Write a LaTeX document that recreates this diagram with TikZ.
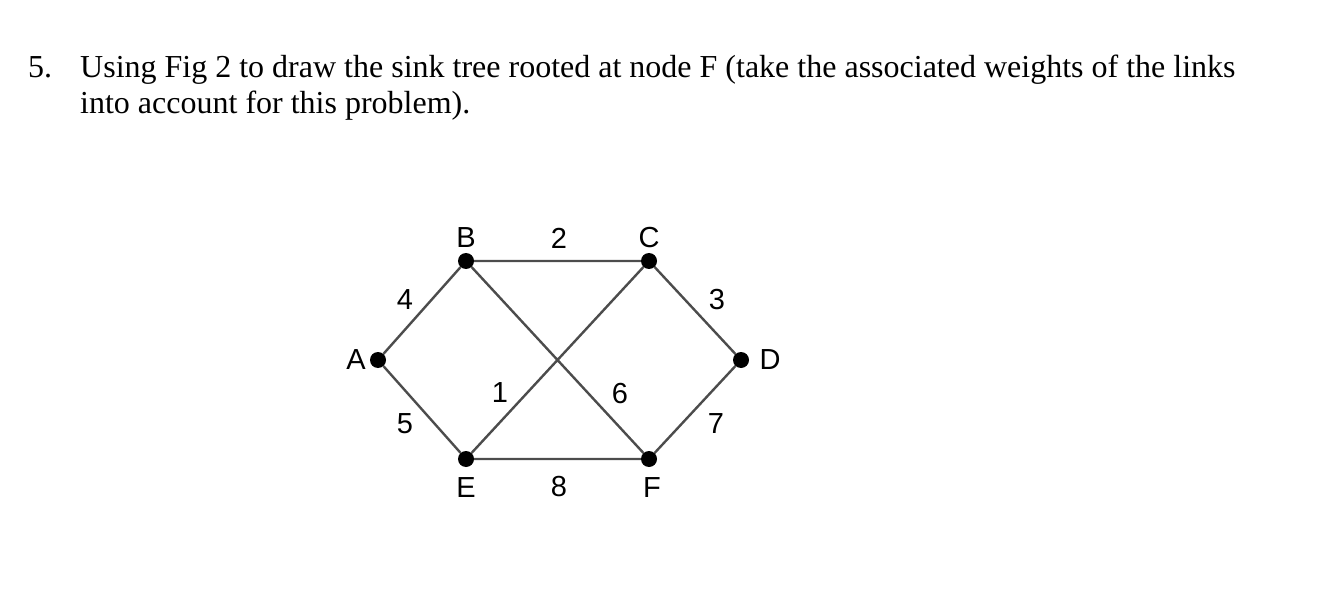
\documentclass[tikz,border=0pt]{standalone}
\usepackage{fontspec}
\setmainfont{Liberation Serif}
\newfontfamily\arialf{Liberation Sans}
\begin{document}
\begin{tikzpicture}[x=1pt,y=-1pt,
  vtx/.style={circle,fill=black,inner sep=0pt,minimum size=16pt},
  edge/.style={draw=black!70,line width=2.4pt},
  lbl/.style={font=\arialf\fontsize{29}{29}\selectfont,inner sep=0pt},
  ttl/.style={font=\fontsize{32}{32}\selectfont,anchor=base west,inner sep=0pt}]
\useasboundingbox (0,0) rectangle (1328,596);
\node[ttl] (n5) at (28,78) {5.};
\node[ttl] (t1) at (80,78) {Using Fig 2 to draw the sink tree rooted at node F (take the associated weights of the links};
\node[ttl] (t2) at (80,114) {into account for this problem).};
\node[vtx] (A) at (378,360) {};
\node[vtx] (B) at (466,261) {};
\node[vtx] (C) at (649,261) {};
\node[vtx] (D) at (741,360) {};
\node[vtx] (E) at (466,459) {};
\node[vtx] (F) at (649,459) {};
\draw[edge] (A)--(B) (A)--(E) (B)--(C) (E)--(F) (C)--(D) (F)--(D) (B)--(F) (E)--(C);
\node[lbl] (lA) at (356,360) {A};
\node[lbl] (lB) at (466,238) {B};
\node[lbl] (lC) at (649,238) {C};
\node[lbl] (lD) at (770,360) {D};
\node[lbl] (lE) at (466,488) {E};
\node[lbl] (lF) at (652,488) {F};
\node[lbl] (w2) at (559,238) {2};
\node[lbl] (w4) at (405,300) {4};
\node[lbl] (w3) at (717,300) {3};
\node[lbl] (w1) at (500,393) {1};
\node[lbl] (w6) at (620,394) {6};
\node[lbl] (w5) at (405,424) {5};
\node[lbl] (w7) at (716,424) {7};
\node[lbl] (w8) at (559,487) {8};
\end{tikzpicture}
\end{document}
